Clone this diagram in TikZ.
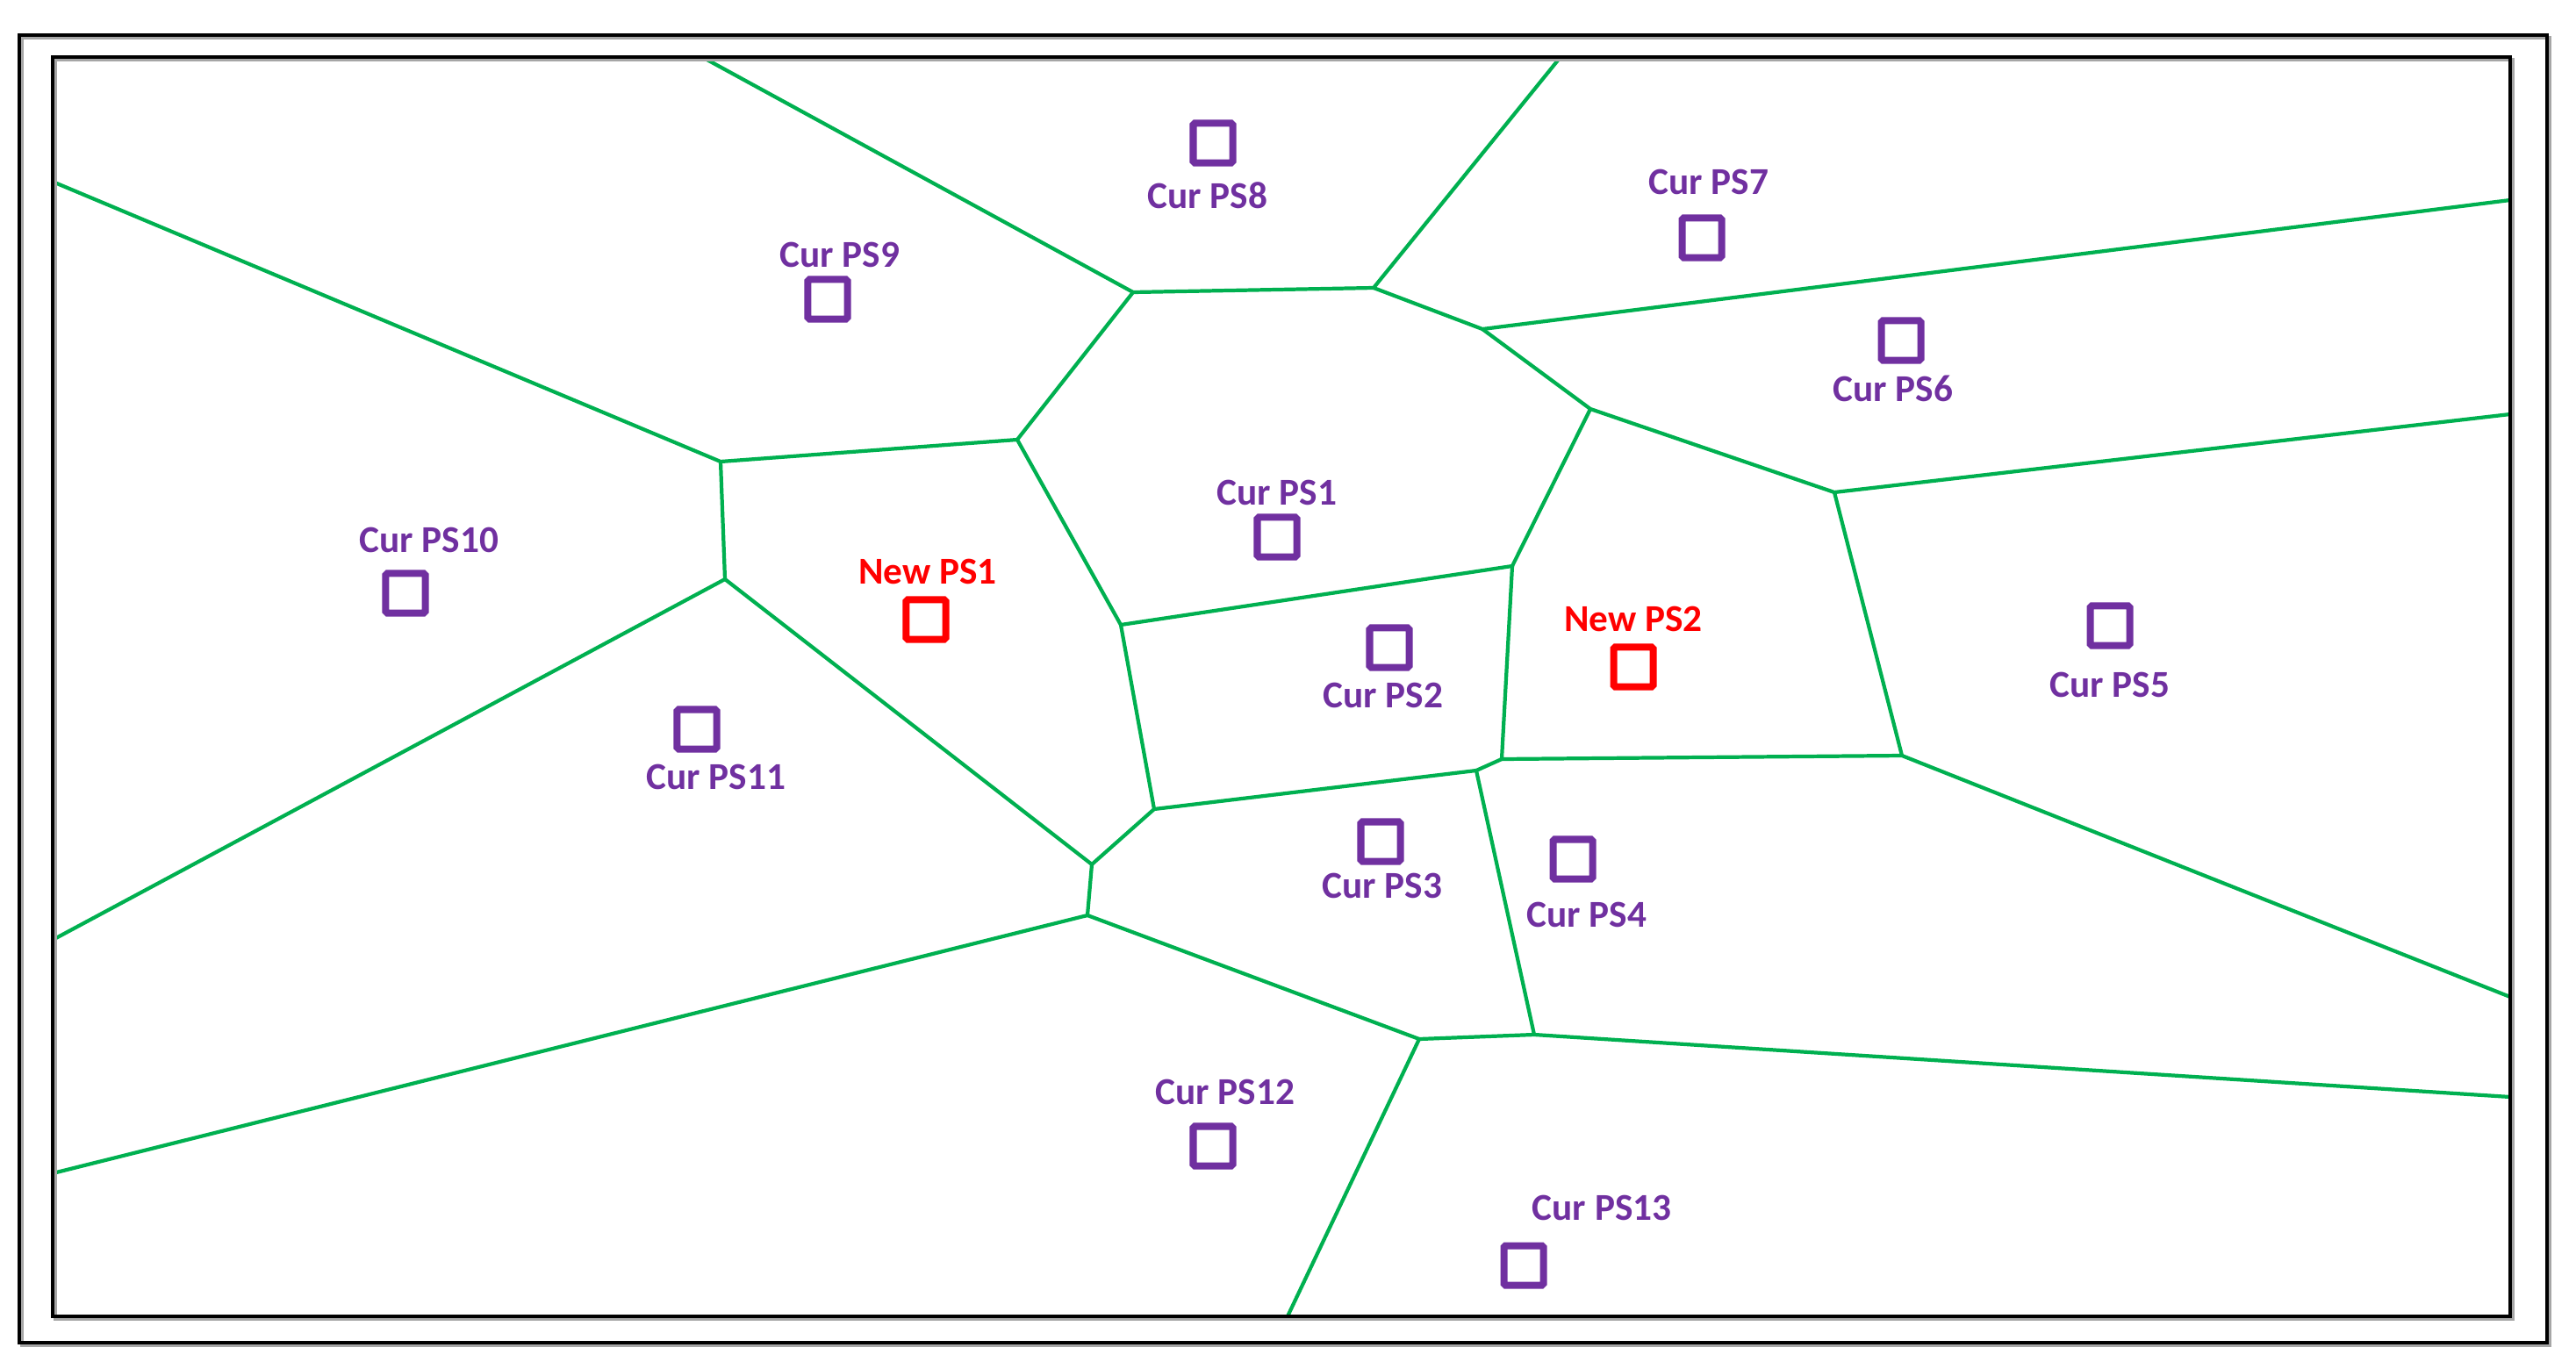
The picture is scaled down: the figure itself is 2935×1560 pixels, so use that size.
\documentclass[tikz,border=0pt]{standalone}
\usepackage{fontspec}
\setmainfont{Carlito}
\usetikzlibrary{positioning}
\definecolor{cellgreen}{HTML}{00B050}
\definecolor{pspurple}{HTML}{7030A0}
\definecolor{psred}{HTML}{FF0000}

\begin{document}
\begin{tikzpicture}[x=0.01cm,y=-0.01cm]
            \tikzset{
                ps/.style={draw=pspurple, line width=0.08cm, minimum size=0.45cm, inner sep=0pt, rounded corners=0.5pt},
                newps/.style={ps, draw=psred},
                lbl/.style={text=pspurple, font=\fontsize{12.3}{14}\selectfont\bfseries, inner sep=0pt},
                newlbl/.style={lbl, text=psred},
                cell/.style={draw=cellgreen, line width=1.2pt, line join=round},
                frame/.style={draw=black, line width=1.4pt},
                frameshadow/.style={draw=black!35, line width=1.4pt}
            }
            \useasboundingbox (0,0) rectangle (2935,1560);

            % cell corners
            \coordinate (A) at (1291,333);
            \coordinate (B) at (1565,328);
            \coordinate (C) at (1689,375);
            \coordinate (D) at (1812,466);
            \coordinate (E) at (2090,561);
            \coordinate (F) at (1159,501);
            \coordinate (G) at (821,526);
            \coordinate (H) at (826,660);
            \coordinate (I) at (1277,712);
            \coordinate (J) at (1723,645);
            \coordinate (K) at (1315,922);
            \coordinate (L) at (1244,985);
            \coordinate (M) at (1239,1043);
            \coordinate (N) at (1682,878);
            \coordinate (O) at (1711,865);
            \coordinate (P) at (2167,861);
            \coordinate (Q) at (1617,1184);
            \coordinate (R) at (1748,1179);
            % ends on the border
            \coordinate (t1) at (800,65);
            \coordinate (t2) at (1778,65);
            \coordinate (l1) at (60,207);
            \coordinate (l2) at (60,1071);
            \coordinate (l3) at (60,1337);
            \coordinate (r1) at (2860,228);
            \coordinate (r2) at (2860,472);
            \coordinate (r3) at (2860,1136);
            \coordinate (r4) at (2860,1250);
            \coordinate (b1) at (1467,1500);

            % cell edges
            \draw[cell] (t1) -- (A) -- (B) -- (t2);
            \draw[cell] (B) -- (C) -- (r1);
            \draw[cell] (C) -- (D) -- (E) -- (r2);
            \draw[cell] (D) -- (J) -- (I) -- (F) -- (A);
            \draw[cell] (l1) -- (G) -- (F);
            \draw[cell] (G) -- (H) -- (l2);
            \draw[cell] (H) -- (L) -- (K) -- (I);
            \draw[cell] (L) -- (M) -- (l3);
            \draw[cell] (M) -- (Q) -- (b1);
            \draw[cell] (Q) -- (R) -- (r4);
            \draw[cell] (R) -- (N) -- (K);
            \draw[cell] (N) -- (O) -- (J);
            \draw[cell] (O) -- (P) -- (r3);
            \draw[cell] (E) -- (P);

            % frames
            \draw[frameshadow] (25,43) rectangle (2905,1533);
            \draw[frameshadow] (63,68) rectangle (2863,1503);
            \draw[frame] (22,40) rectangle (2902,1530);
            \draw[frame] (60,65) rectangle (2860,1500);

            % stations
            \node[ps] (s1) at (1455,612) {};
            \node[ps] (s2) at (1583,738) {};
            \node[ps] (s3) at (1573,959) {};
            \node[ps] (s4) at (1792,979) {};
            \node[ps] (s5) at (2404,713) {};
            \node[ps] (s6) at (2166,388) {};
            \node[ps] (s7) at (1939,271) {};
            \node[ps] (s8) at (1382,163) {};
            \node[ps] (s9) at (943,341) {};
            \node[ps] (s10) at (462,676) {};
            \node[ps] (s11) at (794,831) {};
            \node[ps] (s12) at (1382,1306) {};
            \node[ps] (s13) at (1736,1442) {};
            \node[newps] (n1) at (1055,706) {};
            \node[newps] (n2) at (1861,760) {};

            % labels
            \node[lbl, above=0.09cm of s1] (ls1) {Cur PS1};
            \node[lbl, below=0.13cm of s2, xshift=-0.07cm] (ls2) {Cur PS2};
            \node[lbl, below=0.09cm of s3, xshift=0.02cm] (ls3) {Cur PS3};
            \node[lbl, below=0.22cm of s4, xshift=0.16cm] (ls4) {Cur PS4};
            \node[lbl, below=0.26cm of s5] (ls5) {Cur PS5};
            \node[lbl, below=0.13cm of s6, xshift=-0.09cm] (ls6) {Cur PS6};
            \node[lbl, above=0.22cm of s7, xshift=0.08cm] (ls7) {Cur PS7};
            \node[lbl, below=0.17cm of s8, xshift=-0.06cm] (ls8) {Cur PS8};
            \node[lbl, above=0.09cm of s9, xshift=0.14cm] (ls9) {Cur PS9};
            \node[lbl, above=0.19cm of s10, xshift=0.27cm] (ls10) {Cur PS10};
            \node[lbl, below=0.13cm of s11, xshift=0.22cm] (ls11) {Cur PS11};
            \node[lbl, above=0.2cm of s12, xshift=0.14cm] (ls12) {Cur PS12};
            \node[lbl, above=0.24cm of s13, xshift=0.89cm] (ls13) {Cur PS13};
            \node[newlbl, above=0.13cm of n1, xshift=0.02cm] (ln1) {New PS1};
            \node[newlbl, above=0.13cm of n2] (ln2) {New PS2};
\end{tikzpicture}
\end{document}
